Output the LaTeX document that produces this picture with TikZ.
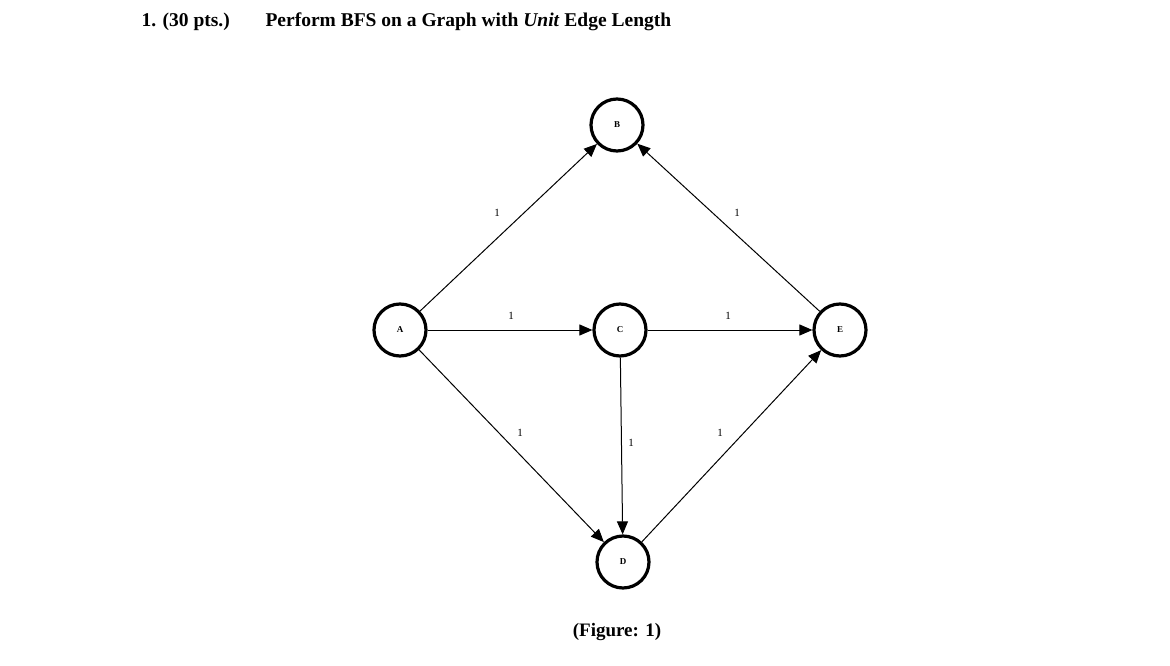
\documentclass[tikz,border=0pt]{standalone}
\usepackage{fontspec}
\setmainfont{Liberation Serif}
\usetikzlibrary{arrows.meta}
\begin{document}
\begin{tikzpicture}[x=1pt,y=-1pt,
  vtx/.style={circle,draw,line width=3.2pt,minimum size=52pt,inner sep=0pt,font=\fontsize{9}{10}\selectfont\bfseries},
  edge/.style={line width=1pt,-{Triangle[length=13pt,width=11pt]}},
  wt/.style={font=\fontsize{11}{12}\selectfont}]
\useasboundingbox (0,0) rectangle (1170,666);
\node[anchor=west,font=\fontsize{19.5}{22}\selectfont\bfseries] (t1) at (138,22) {1. (30 pts.)};
\node[anchor=west,font=\fontsize{19.5}{22}\selectfont\bfseries] (t2) at (262,22) {Perform BFS on a Graph with \textit{Unit} Edge Length};
\node[vtx] (B) at (617,125) {B};
\node[vtx] (A) at (400,330) {A};
\node[vtx] (C) at (620,330) {C};
\node[vtx] (E) at (840,330) {E};
\node[vtx] (D) at (623,562) {D};
\draw[edge] (A) -- (B);
\draw[edge] (E) -- (B);
\draw[edge] (A) -- (C);
\draw[edge] (C) -- (E);
\draw[edge] (A) -- (D);
\draw[edge] (C) -- (D);
\draw[edge] (D) -- (E);
\node[wt] (l1) at (497,213) {1};
\node[wt] (l2) at (737,213) {1};
\node[wt] (l3) at (511,316) {1};
\node[wt] (l4) at (728,316) {1};
\node[wt] (l5) at (520,433) {1};
\node[wt] (l6) at (631,443) {1};
\node[wt] (l7) at (720,433) {1};
\node[font=\fontsize{19}{22}\selectfont\bfseries] (cap) at (617,632) {(Figure: 1)};
\end{tikzpicture}
\end{document}
